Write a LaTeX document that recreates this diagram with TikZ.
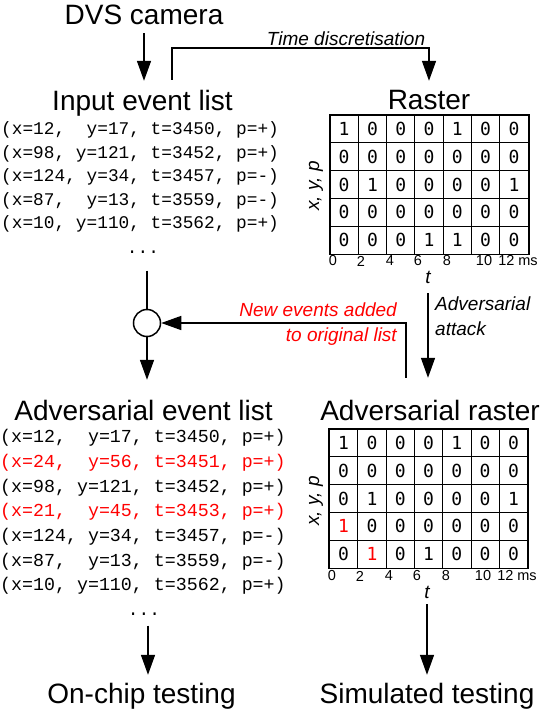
\documentclass[tikz,border=0pt]{standalone}
\usepackage{fontspec}
\setmainfont{Liberation Sans}
\newfontfamily\evtfont{Liberation Mono}
\newfontfamily\cellfont{DejaVu Sans Mono}
\usetikzlibrary{arrows.meta}

\newcommand{\redone}{\textcolor{red}{1}}

\tikzstyle{arrow} = [line width=1.5pt,-{Triangle[length=20pt,width=14pt]}]
\tikzstyle{plain} = [line width=1.5pt]
\tikzstyle{title} = [
        font=\fontsize{28}{28}\selectfont,
        text height=20pt,
        text depth=6pt,
        inner sep=0pt,
        anchor=base
    ]
\tikzstyle{event} = [
        font=\evtfont\fontsize{17.8}{20}\selectfont,
        inner sep=0pt,
        anchor=west
    ]
\tikzstyle{cell} = [
        rectangle,
        draw=black,
        line width=1pt,
        minimum width=28.3pt,
        minimum height=27.8pt,
        inner sep=0pt,
        font=\cellfont\fontsize{18}{18}\selectfont
    ]
\tikzstyle{tick} = [font=\fontsize{14.5}{14.5}\selectfont, inner sep=0pt]
\tikzstyle{axis} = [font=\itshape\fontsize{19}{19}\selectfont, inner sep=0pt]
\tikzstyle{note} = [font=\itshape\fontsize{19}{25}\selectfont, inner sep=0pt]

\begin{document}
\begin{tikzpicture}[x=1pt, y=-1pt]
        \useasboundingbox (0,0) rectangle (546,712);

        % titles
        \node (dvs) [title] at (144,24) {DVS camera};
        \node (inlist) [title] at (142.5,110) {Input event list};
        \node (raster) [title] at (429,109) {Raster};
        \node (advlist) [title] at (143.5,420) {Adversarial event list};
        \node (advraster) [title] at (430,420) {Adversarial raster};
        \node (onchip) [title] at (141.5,703) {On-chip testing};
        \node (simtest) [title] at (427,703) {Simulated testing};

        % event lists
        \foreach \evt [count=\i] in {%
            {(x=12,~~y=17, t=3450, p=+)},
            {(x=98, y=121, t=3452, p=+)},
            {(x=124, y=34, t=3457, p=-)},
            {(x=87,~~y=13, t=3559, p=-)},
            {(x=10, y=110, t=3562, p=+)}}
            \node (in-\i) [event] at (1,130+23.5*\i-23.5) {\evt};
        \node (indots) [event, anchor=center] at (143,252) {...};

        \foreach \evt [count=\i] in {%
            {(x=12,~~y=17, t=3450, p=+)},
            {\textcolor{red}{(x=24,~~y=56, t=3451, p=+)}},
            {(x=98, y=121, t=3452, p=+)},
            {\textcolor{red}{(x=21,~~y=45, t=3453, p=+)}},
            {(x=124, y=34, t=3457, p=-)},
            {(x=87,~~y=13, t=3559, p=-)},
            {(x=10, y=110, t=3562, p=+)}}
            \node (adv-\i) [event, font=\evtfont\fontsize{18.3}{20}\selectfont] at (0,438+24.7*\i-24.7) {\evt};
        \node (advdots) [event, anchor=center] at (144,614) {...};

        % rasters
        \foreach \row [count=\rw] in {%
            {1,0,0,0,1,0,0},{0,0,0,0,0,0,0},{0,1,0,0,0,0,1},
            {0,0,0,0,0,0,0},{0,0,0,1,1,0,0}}
            \foreach \v [count=\col] in \row
                \node (ra-\rw-\col) [cell] at (330+28.3*\col-14.15,115+27.8*\rw-13.9) {\v};
        \draw [line width=1.8pt] (ra-1-1.north west) rectangle (ra-5-7.south east);

        \foreach \row [count=\rw] in {%
            {1,0,0,0,1,0,0},{0,0,0,0,0,0,0},{0,1,0,0,0,0,1},
            {\redone,0,0,0,0,0,0},{0,\redone,0,1,0,0,0}}
            \foreach \v [count=\col] in \row
                \node (rb-\rw-\col) [cell] at (329.5+28.3*\col-14.15,429+27.8*\rw-13.9) {\v};
        \draw [line width=1.8pt] (rb-1-1.north west) rectangle (rb-5-7.south east);

        % axes
        \foreach \tk/\dx in {0/3, 2/31, 4/60, 6/88, 8/117, 10/154} {
            \node (ta-\tk) [tick] at (330+\dx,261) {\tk};
            \node (tb-\tk) [tick] at (329+\dx,576) {\tk};
        }
        \node (ta-ms) [tick] at (518,261) {12 ms};
        \node (tb-ms) [tick] at (517,576) {12 ms};
        \node (ta-t) [axis] at (428,277) {t};
        \node (tb-t) [axis] at (427,592) {t};
        \node (ta-xyp) [axis, rotate=90] at (316,186) {x, y, p};
        \node (tb-xyp) [axis, rotate=90] at (316,501) {x, y, p};

        % merge point and labels
        \node (merge) [circle, draw=black, line width=1.5pt, minimum size=27pt, inner sep=0pt] at (147,323) {};
        \coordinate (tdbend) at (429,48);
        \node (tdlabel) [note, anchor=base] at (346,45) {Time discretisation};
        \node (attack) [note, align=left, anchor=west] at (435,316) {Adversarial\\attack};
        \node (added) [note, align=right, anchor=east, text=red] at (397,324) {New events added\\to original list};

        \draw [arrow, shorten <=3pt, shorten >=9pt] (dvs.south) -- (dvs.south |- inlist.north);
        \draw [arrow, shorten <=10pt, shorten >=8pt] ([xshift=29.5pt]inlist.north) |- (tdbend) -- (raster.north);
        \draw [plain, shorten <=17pt] (indots.south -| merge) -- (merge);
        \draw [arrow, shorten >=20pt] (merge) -- (merge |- advlist.north);
        \draw [arrow, shorten <=10pt, shorten >=22pt] (ta-t.south) -- (ta-t.south |- advraster.north);
        \draw [arrow, shorten <=22pt] ([xshift=-24pt]advraster.north) |- (merge);
        \draw [arrow, shorten <=10pt, shorten >=8pt] ([xshift=4pt]advdots.south) -- ([xshift=4pt]advdots.south |- onchip.north);
        \draw [arrow, shorten <=6pt, shorten >=8pt] (tb-t.south) -- (tb-t.south |- simtest.north);

    \end{tikzpicture}
\end{document}
